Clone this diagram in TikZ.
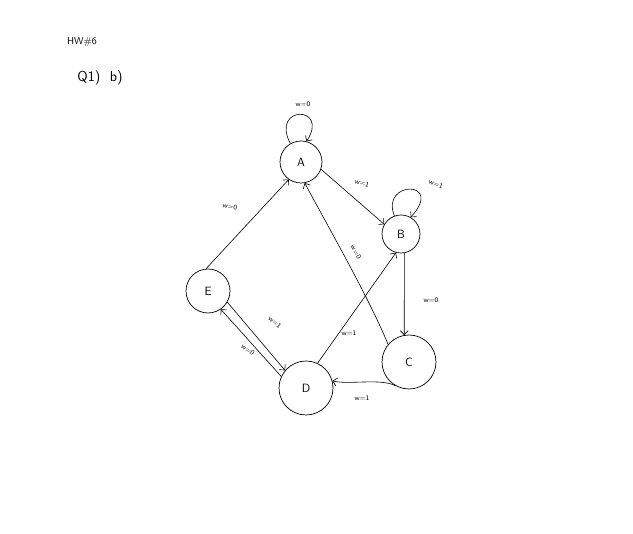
\documentclass[tikz,border=0pt]{standalone}
\usetikzlibrary{arrows.meta}
\begin{document}
\begin{tikzpicture}[x=1pt,y=-1pt,
 st/.style={circle,draw,line width=0.7pt,inner sep=0pt,font=\sffamily\large},
 ed/.style={-{Straight Barb[length=4pt]},line width=0.6pt},
 lb/.style={font=\sffamily\scriptsize,inner sep=1pt}]
\useasboundingbox (0,0) rectangle (633,534);
\node[font=\sffamily] (t1) at (82,42) {HW\#6};
\node[font=\sffamily\Large] (t2) at (100,78) {Q1) \ b)};
\node[st,minimum size=42pt] (A) at (301,162) {A};
\node[st,minimum size=38pt] (B) at (401,234) {B};
\node[st,minimum size=44pt] (E) at (208,291) {E};
\node[st,minimum size=54pt] (C) at (409,362) {C};
\node[st,minimum size=54pt] (D) at (306,388) {D};
\draw[ed] (A.120) .. controls (270,105) and (330,105) .. (A.75);
\node[lb] (l1) at (303,104) {w=0};
\draw[ed] (A.-20) -- (B.150);
\node[lb,rotate=-15] (l2) at (362,183) {w=1};
\draw[ed] (B.110) .. controls (380,180) and (445,180) .. (B.60);
\node[lb,rotate=-20] (l3) at (436,184) {w=1};
\draw[ed] (E.95) -- (A.-125);
\node[lb,rotate=-10] (l4) at (230,207) {w=0};
\draw[ed] (C.140) .. controls (370,300) and (330,230) .. (A.-80);
\node[lb,rotate=-60] (l5) at (356,252) {w=0};
\draw[ed] (B.-80) -- (C.100);
\node[lb] (l6) at (431,300) {w=0};
\draw[ed] (D.65) -- (B.-105);
\node[lb] (l7) at (349,333) {w=1};
\draw[ed] (E.-30) -- (D.140);
\node[lb,rotate=-40] (l8) at (275,322) {w=1};
\draw[ed] (D.155) -- (E.-55);
\node[lb,rotate=-35] (l9) at (248,350) {w=0};
\draw[ed] (C.-120) .. controls (380,378) and (350,385) .. (D.15);
\node[lb] (l10) at (362,398) {w=1};
\end{tikzpicture}
\end{document}
